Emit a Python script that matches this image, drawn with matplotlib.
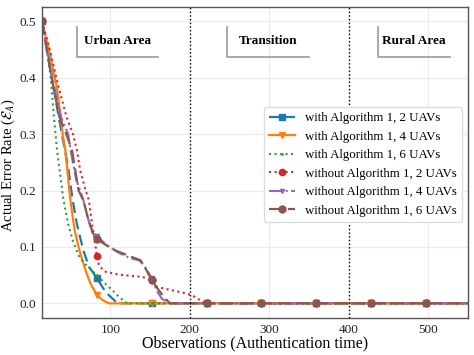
import matplotlib
matplotlib.use("Agg")
import matplotlib.pyplot as plt
from matplotlib.lines import Line2D

plt.rcParams['font.family'] = ['Liberation Serif', 'DejaVu Serif']
plt.rcParams['mathtext.fontset'] = 'stix'

marker_x = [14, 83, 152, 221, 290, 359, 428, 497]
tail_x = [221, 290, 359, 428, 497, 550]
tail_y = [0.0, 0.0, 0.0, 0.0, 0.0, 0.0]

blue_x = [14, 22, 30, 39, 47, 52.6, 58, 66, 73, 83, 94, 106, 110, 152]
blue_y = [0.50, 0.44, 0.37, 0.30, 0.24, 0.183, 0.14, 0.094, 0.065, 0.045, 0.02, 0.004, 0.0, 0.0]

orange_x = [14, 25, 33, 40, 43.4, 49.7, 55, 61, 68.6, 75, 83, 90, 98, 152]
orange_y = [0.50, 0.435, 0.38, 0.30, 0.271, 0.183, 0.13, 0.094, 0.059, 0.035, 0.015, 0.006, 0.0, 0.0]

green_x = [14, 20, 25, 29, 33, 41, 47, 53, 60, 68, 77, 83, 95, 102, 112, 121, 152]
green_y = [0.50, 0.45, 0.40, 0.33, 0.271, 0.183, 0.14, 0.11, 0.085, 0.07, 0.058, 0.05, 0.033, 0.024, 0.01, 0.0, 0.0]

red_x = [14, 22, 35, 45, 53, 58, 62, 69, 73, 77, 80, 83, 86, 94, 110, 140, 152, 159, 175, 194, 203, 215]
red_y = [0.50, 0.46, 0.383, 0.33, 0.30, 0.271, 0.236, 0.20, 0.183, 0.14, 0.115, 0.084, 0.066, 0.056, 0.051, 0.047, 0.041, 0.029, 0.024, 0.018, 0.014, 0.004]

purple_x = [14, 20, 27, 38, 47, 50, 57, 62, 66, 72, 77, 83, 94, 110, 125, 136, 142, 152, 159, 165, 175]
purple_y = [0.50, 0.45, 0.40, 0.33, 0.30, 0.271, 0.22, 0.20, 0.183, 0.15, 0.126, 0.12, 0.105, 0.09, 0.08, 0.0765, 0.068, 0.045, 0.021, 0.008, 0.0]

brown_x = [14, 20, 26, 36, 44.6, 51.8, 60, 66, 72, 78, 83, 95, 106, 120, 131, 138, 145, 152, 160, 168, 175]
brown_y = [0.50, 0.45, 0.40, 0.33, 0.30, 0.271, 0.20, 0.183, 0.15, 0.125, 0.114, 0.103, 0.094, 0.086, 0.08, 0.0765, 0.06, 0.041, 0.025, 0.01, 0.0]

labels = ["with Algorithm 1, 2 UAVs", "with Algorithm 1, 4 UAVs", "with Algorithm 1, 6 UAVs",
          "without Algorithm 1, 2 UAVs", "without Algorithm 1, 4 UAVs", "without Algorithm 1, 6 UAVs"]
region_names = ["Urban Area", "Transition", "Rural Area"]
boundaries = [200, 400]

series = [
    (blue_x, blue_y, dict(color='#1f77b4', ls=(0, (5, 2.5)), marker='s', ms=4.5, lw=1.6)),
    (orange_x, orange_y, dict(color='#ff7f0e', ls='-', marker='v', ms=4.5, lw=1.6)),
    (green_x, green_y, dict(color='#2ca02c', ls=':', marker='.', ms=2, lw=1.5)),
    (red_x, red_y, dict(color='#d62728', ls=':', marker='o', ms=4.5, lw=1.5)),
    (purple_x, purple_y, dict(color='#9467bd', ls='-.', marker='v', ms=3, lw=1.5)),
    (brown_x, brown_y, dict(color='#8c564b', ls=(0, (6, 2.5)), marker='o', ms=5, lw=1.6)),
]

fig = plt.figure(figsize=(4.74, 3.55), dpi=100)
ax = fig.add_axes([42/474, 1 - 318/355, 426/474, 311.3/355])

for (xs, ys, st), lab in zip(series, labels):
    full_x = list(xs) + [t for t in tail_x if t > xs[-1]]
    full_y = list(ys) + [tail_y[i] for i, t in enumerate(tail_x) if t > xs[-1]]
    mk = [i for i, v in enumerate(full_x) if v in marker_x]
    ax.plot(full_x, full_y, label=lab, markevery=mk, **st)

for b in boundaries:
    ax.axvline(b, color='black', ls=':', lw=1.0)

ax.set_xlim(14, 550)
ax.set_ylim(-0.026, 0.526)
ax.set_xticks([100, 200, 300, 400, 500])
ax.set_yticks([0.0, 0.1, 0.2, 0.3, 0.4, 0.5])
ax.grid(True, color='#eeeaea', lw=0.8)
ax.set_axisbelow(True)
for s in ax.spines.values():
    s.set_color('#555555')
    s.set_linewidth(1.0)
ax.tick_params(labelsize=9.5, colors='#222222', length=0, pad=4)
ax.set_xlabel("Observations (Authentication time)", fontsize=11.5, labelpad=0)
ax.set_ylabel(r"Actual Error Rate ($\mathcal{E}_A$)", fontsize=10.5)
ax.yaxis.set_label_coords(-0.058, 0.49)

boxes = [(0.082, 0.272, 0.178), (0.434, 0.627, 0.53), (0.789, 0.958, 0.873)]
for name, (l, r, c) in zip(region_names, boxes):
    ax.text(c, 0.89, name, transform=ax.transAxes, ha='center', va='center',
            fontsize=9.5, fontweight='bold')
    ax.add_line(Line2D([l, l, r], [0.935, 0.838, 0.838], transform=ax.transAxes,
                       color='#999999', lw=1.2))

leg = ax.legend(loc='upper right', bbox_to_anchor=(0.986, 0.678), borderaxespad=0,
                fontsize=9.3, handlelength=2.0, labelspacing=0.5, framealpha=1,
                edgecolor='#dddddd', fancybox=True)

fig.savefig("out.png", dpi=100)
